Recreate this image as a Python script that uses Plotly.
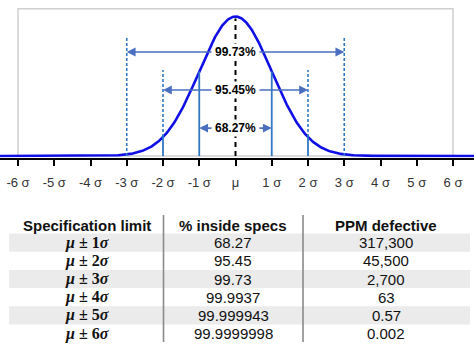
import numpy as np
import plotly.graph_objects as go

W, H = 474, 345

# ---- axis ticks (in units of sigma) ----
sigma_ticks = list(range(-6, 7))
tick_text = ["μ" if k == 0 else f"{k} σ" for k in sigma_ticks]

# ---- coverage bands drawn on the curve ----
band_k = [1, 2, 3]
band_pcts = ["68.27%", "95.45%", "99.73%"]
band_label_y = [0.200, 0.473, 0.7455]
band_line_top = [None, 0.6165, 0.860]   # top of the limit marker above the curve

# ---- table ----
headers = ["Specification limit", "% inside specs", "PPM defective"]
spec_k = [1, 2, 3, 4, 5, 6]
inside_pct = ["68.27", "95.45", "99.73", "99.9937", "99.999943", "99.9999998"]
ppm_defective = ["317,300", "45,500", "2,700", "63", "0.57", "0.002"]

CURVE_BLUE = "#1010e6"
LIMIT_BLUE = "#2f78c4"
ARROW_BLUE = "#4a6fc0"
SANS = "Liberation Sans, Arial, sans-serif"
SERIF = "Liberation Serif, DejaVu Serif, serif"


def px_x(p):
    return p / W


def px_y(p):
    return 1 - p / H


# standard normal density, scaled to a peak of 1
x = np.linspace(-6.6, 6.6, 800)
y = np.exp(-x ** 2 / 2)

fig = go.Figure()
fig.add_trace(go.Scatter(x=x, y=y, mode="lines",
                         line=dict(color=CURVE_BLUE, width=2.6),
                         hoverinfo="skip", showlegend=False))

# axis geometry: +-6 sigma spans the framed region, 36.25 px per sigma
px_per_sigma = 36.25
mu_px = 235.5
x_range = [-mu_px / px_per_sigma, (W - mu_px) / px_per_sigma]
base_px, top_px, axis_px, unit_px = 156.0, 8.0, 157.5, 139.5
y_range = [-(axis_px - base_px) / unit_px, (base_px - top_px) / unit_px]

shapes = []
# light frame around the +-6 sigma window
shapes.append(dict(type="rect", xref="x", yref="y", x0=-6, x1=6,
                   y0=0, y1=y_range[1] - 0.006,
                   line=dict(color="#cfcfcf", width=1.5), layer="below"))

# mean line
shapes.append(dict(type="line", xref="x", yref="y", x0=0, x1=0, y0=0, y1=0.985,
                   line=dict(color="black", width=2, dash="5px,4px")))

# limit markers at +-k sigma
for k, top in zip(band_k, band_line_top):
    under = float(np.exp(-k ** 2 / 2))
    for s in (-1, 1):
        if k < 3:
            shapes.append(dict(type="line", xref="x", yref="y", x0=s * k, x1=s * k,
                               y0=0, y1=under, line=dict(color=LIMIT_BLUE, width=1.8)))
        if top is not None:
            shapes.append(dict(type="line", xref="x", yref="y", x0=s * k, x1=s * k,
                               y0=under if k < 3 else 0, y1=top,
                               line=dict(color=LIMIT_BLUE, width=1.6, dash="3px,2px")))

annotations = []
for k, lab, yv in zip(band_k, band_pcts, band_label_y):
    for s in (-1, 1):
        annotations.append(dict(x=s * k, y=yv, xref="x", yref="y",
                                ax=s * 0.62, ay=yv, axref="x", ayref="y",
                                text="", showarrow=True, arrowhead=2, arrowsize=1.1,
                                arrowwidth=1.6, arrowcolor=ARROW_BLUE, standoff=0))
    annotations.append(dict(x=0, y=yv, xref="x", yref="y", text=f"<b>{lab}</b>",
                            showarrow=False, bgcolor="white", borderpad=1,
                            font=dict(family=SANS, size=12, color="black")))

# ---- table ----
row_top0, row_h = 233.5, 18.2
for i in range(len(spec_k)):
    if i % 2 == 0:
        shapes.append(dict(type="rect", xref="paper", yref="paper",
                           x0=px_x(9), x1=px_x(470),
                           y0=px_y(row_top0 + row_h * (i + 1)), y1=px_y(row_top0 + row_h * i),
                           fillcolor="#ebebeb", line=dict(width=0), layer="below"))
for sx in (163.5, 303):
    shapes.append(dict(type="line", xref="paper", yref="paper",
                       x0=px_x(sx), x1=px_x(sx), y0=px_y(215), y1=px_y(342),
                       line=dict(color="#8a8a8a", width=1.6)))


def cell(cx, cy, text, family, size=15):
    return dict(x=px_x(cx), y=px_y(cy), xref="paper", yref="paper",
                xanchor="center", yanchor="middle", text=text, showarrow=False,
                font=dict(family=family, size=size, color="#111111"))


col_x = [87, 233, 386]
for cx, htxt in zip(col_x, headers):
    annotations.append(cell(cx, 225.5, f"<b>{htxt}</b>", SANS))
for i, (k, pct, ppm) in enumerate(zip(spec_k, inside_pct, ppm_defective)):
    cy = row_top0 + row_h * (i + 0.5)
    annotations.append(cell(col_x[0], cy, f"<b><i>μ</i> ± {k}<i>σ</i></b>", SERIF, 16))
    annotations.append(cell(col_x[1], cy, pct, SANS))
    annotations.append(cell(col_x[2], cy, ppm, SANS))

fig.update_layout(
    width=W, height=H,
    margin=dict(l=0, r=0, t=0, b=0),
    paper_bgcolor="white", plot_bgcolor="white",
    showlegend=False,
    xaxis=dict(domain=[0, 1], range=x_range, showgrid=False, zeroline=False,
               tickmode="array", tickvals=sigma_ticks, ticktext=tick_text,
               ticks="outside", ticklen=6, tickwidth=1.5, tickcolor="black",
               showline=True, linecolor="black", linewidth=2,
               ticklabelstandoff=6,
               tickfont=dict(family=SANS, size=13, color="#333333")),
    yaxis=dict(domain=[1 - axis_px / H, 1 - top_px / H], range=y_range,
               showgrid=False, zeroline=False, showticklabels=False, ticks=""),
    shapes=shapes,
    annotations=annotations,
)

fig.write_html("out.html")
